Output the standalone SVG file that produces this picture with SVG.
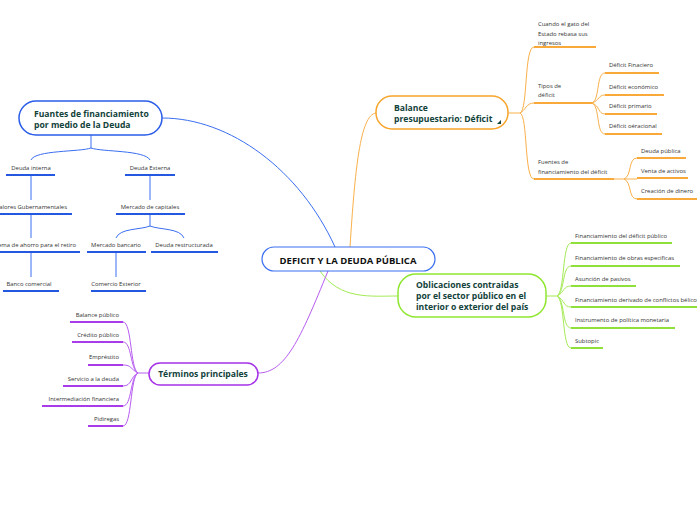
<svg xmlns="http://www.w3.org/2000/svg" width="697" height="520" viewBox="0 0 697 520">
<style>
text{font-family:"Open Sans","Noto Sans","Liberation Sans",sans-serif;fill:#333}
.s{font-size:5.9px}
.m{font-size:8.6px;font-weight:bold;fill:#12423a}
.c{fill:none;stroke-width:1}
.o{stroke:#f9b04a}.g{stroke:#a4ea55}.b{stroke:#3a6ef0}.p{stroke:#b75cf0}
.u{stroke-width:2}
.uo{stroke:#f9a93a}.ug{stroke:#8fe03a}.ub{stroke:#2458e0}.up{stroke:#a83ce8}
</style>
<rect width="697" height="520" fill="#fff"/>
<g id="connectors" fill="none">
<path class="c b" stroke-width="1.5" d="M335,247 C300,170 230,118 162,118"/>
<path class="c o" stroke-width="1.5" d="M350,247 C355,170 360,115 376,113"/>
<path class="c g" stroke-width="1.5" d="M320,271 C340,300 370,296 398,296"/>
<path class="c p" stroke-width="1.5" d="M328,271 C300,340 285,373 258,373"/>
<path class="c o" d="M506,113 H520 M520,113 C528,110 524,47 534,47 M520,113 C526,110 526,103 534,103 M520,113 C528,116 524,179 534,179"/>
<path class="c o" d="M592,103 C600,100 596,73 605,73 M592,103 C600,100 598,95 605,95 M592,103 C600,106 598,114 605,114 M592,103 C600,106 596,134 605,134"/>
<path class="c o" d="M614,179 H624 C632,176 628,158 637,158 M624,179 H637 M624,179 C632,182 628,199 637,199"/>
<path class="c g" d="M546,296 H557 M557,296 C565,292 562,243 571,243 M557,296 C565,292 562,266 571,266 M557,296 C565,292 563,286 571,286 M557,296 C565,300 563,307 571,307 M557,296 C565,300 562,328 571,328 M557,296 C565,300 562,348 571,348"/>
<path class="c p" d="M149,373 H138 M138,373 C130,369 132,322 123,322 M138,373 C130,369 132,342 123,342 M138,373 C130,369 132,365 123,365 M138,373 C130,377 132,386 123,386 M138,373 C130,377 132,406 123,406 M138,373 C130,377 132,426 123,426"/>
<path class="c b" d="M91,135 V148 C80,152 35,150 31,160 M91,148 C102,152 145,150 150,160"/>
<path class="c b" d="M31,175 V200 M31,214 V238 M31,252 V277 M150,175 V200 M150,214 V226 C140,230 120,228 116,238 M150,226 C160,230 180,228 184,238 M116,252 V277"/>
</g>
<g id="central"><rect x="262" y="247" width="173" height="24" rx="12" fill="#fff" stroke="#3a6ef0" stroke-width="1.2"/><text x="348" y="264" text-anchor="middle" style="font-size:9.5px;font-weight:bold;fill:#111">DEFICIT Y LA DEUDA PÚBLICA</text></g>
<g id="balance"><rect x="376" y="96" width="132" height="33" rx="16" fill="#fff" stroke="#f7a42a" stroke-width="1.5"/><text class="m" x="394" y="111">Balance</text><text class="m" x="394" y="122">presupuestario: Déficit</text><path d="M497,124 L501,120 V124 Z" fill="#12423a"/></g>
<g id="oblig"><rect x="398" y="274" width="148" height="43" rx="18" fill="#fff" stroke="#8ee62f" stroke-width="1.5"/><text class="m" x="416" y="288">Oblicaciones contraidas</text><text class="m" x="416" y="299">por el sector público en el</text><text class="m" x="416" y="310">interior o exterior del país</text></g>
<g id="fuentes"><rect x="19" y="101" width="143" height="34" rx="17" fill="#fff" stroke="#2a5de8" stroke-width="1.5"/><text class="m" x="34" y="117">Fuantes de financiamiento</text><text class="m" x="34" y="128">por medio de la Deuda</text></g>
<g id="terminos"><rect x="149" y="363" width="109" height="22" rx="11" fill="#fff" stroke="#a632e8" stroke-width="1.5"/><text class="m" x="203" y="377" text-anchor="middle">Términos principales</text></g>
<g id="orange-subs">
<text class="s" x="538" y="26">Cuando el gato del</text><text class="s" x="538" y="36">Estado rebasa sus</text><text class="s" x="538" y="45">ingresos</text><line class="u uo" x1="534" y1="47" x2="596" y2="47"/>
<text class="s" x="538" y="88">Tipos de</text><text class="s" x="538" y="97">déficit</text><line class="u uo" x1="534" y1="103" x2="592" y2="103"/>
<text class="s" x="609" y="67">Déficit Finaciero</text><line class="u uo" x1="605" y1="73" x2="659" y2="73"/>
<text class="s" x="609" y="89">Déficit económico</text><line class="u uo" x1="605" y1="95" x2="664" y2="95"/>
<text class="s" x="609" y="108">Déficit primario</text><line class="u uo" x1="605" y1="114" x2="657" y2="114"/>
<text class="s" x="609" y="128">Déficit oéracional</text><line class="u uo" x1="605" y1="134" x2="662" y2="134"/>
<text class="s" x="538" y="164">Fuentes de</text><text class="s" x="538" y="174">financiamiento del déficit</text><line class="u uo" x1="534" y1="179" x2="614" y2="179"/>
<text class="s" x="641" y="153">Deuda pública</text><line class="u uo" x1="637" y1="158" x2="686" y2="158"/>
<text class="s" x="641" y="173">Venta de activos</text><line class="u uo" x1="637" y1="178" x2="688" y2="178"/>
<text class="s" x="641" y="193">Creación de dinero</text><line class="u uo" x1="637" y1="199" x2="697" y2="199"/>
</g>
<g id="green-subs">
<text class="s" x="575" y="238">Financiamiento del déficit público</text><line class="u ug" x1="571" y1="243" x2="672" y2="243"/>
<text class="s" x="575" y="260">Financiamiento de obras especificas</text><line class="u ug" x1="571" y1="266" x2="680" y2="266"/>
<text class="s" x="575" y="281">Asunción de pasivos</text><line class="u ug" x1="571" y1="286" x2="636" y2="286"/>
<text class="s" x="575" y="302">Financiamiento derivado de conflictos bélicos</text><line class="u ug" x1="571" y1="307" x2="697" y2="307"/>
<text class="s" x="575" y="322">Instrumento de política monetaria</text><line class="u ug" x1="571" y1="328" x2="675" y2="328"/>
<text class="s" x="575" y="343">Subtopic</text><line class="u ug" x1="571" y1="348" x2="603" y2="348"/>
</g>
<g id="purple-subs" text-anchor="end">
<text class="s" x="119" y="317">Balance público</text><line class="u up" x1="70" y1="322" x2="123" y2="322"/>
<text class="s" x="119" y="337">Crédito público</text><line class="u up" x1="72" y1="342" x2="123" y2="342"/>
<text class="s" x="119" y="359">Empréstito</text><line class="u up" x1="88" y1="365" x2="123" y2="365"/>
<text class="s" x="119" y="381">Servicio a la deuda</text><line class="u up" x1="63" y1="386" x2="123" y2="386"/>
<text class="s" x="119" y="401">Intermediación financiera</text><line class="u up" x1="42" y1="406" x2="123" y2="406"/>
<text class="s" x="119" y="421">Pidiregas</text><line class="u up" x1="88" y1="426" x2="123" y2="426"/>
</g>
<g id="blue-subs" text-anchor="middle">
<text class="s" x="31" y="170">Deuda interna</text><line class="u ub" x1="6" y1="175" x2="55" y2="175"/>
<text class="s" x="150" y="170">Deuda Externa</text><line class="u ub" x1="125" y1="175" x2="175" y2="175"/>
<text class="s" x="67" y="209" text-anchor="end">Valores Gubernamentales</text><line class="u ub" x1="0" y1="214" x2="72" y2="214"/>
<text class="s" x="150" y="209">Mercado de capitales</text><line class="u ub" x1="116" y1="214" x2="185" y2="214"/>
<text class="s" x="76" y="247" text-anchor="end">Sistema de ahorro para el retiro</text><line class="u ub" x1="0" y1="252" x2="80" y2="252"/>
<text class="s" x="116" y="247">Mercado bancario</text><line class="u ub" x1="87" y1="252" x2="146" y2="252"/>
<text class="s" x="184" y="247">Deuda restructurada</text><line class="u ub" x1="151" y1="252" x2="218" y2="252"/>
<text class="s" x="29" y="286">Banco comercial</text><line class="u ub" x1="3" y1="291" x2="59" y2="291"/>
<text class="s" x="116" y="286">Comercio Exterior</text><line class="u ub" x1="91" y1="291" x2="146" y2="291"/>
</g>
</svg>
